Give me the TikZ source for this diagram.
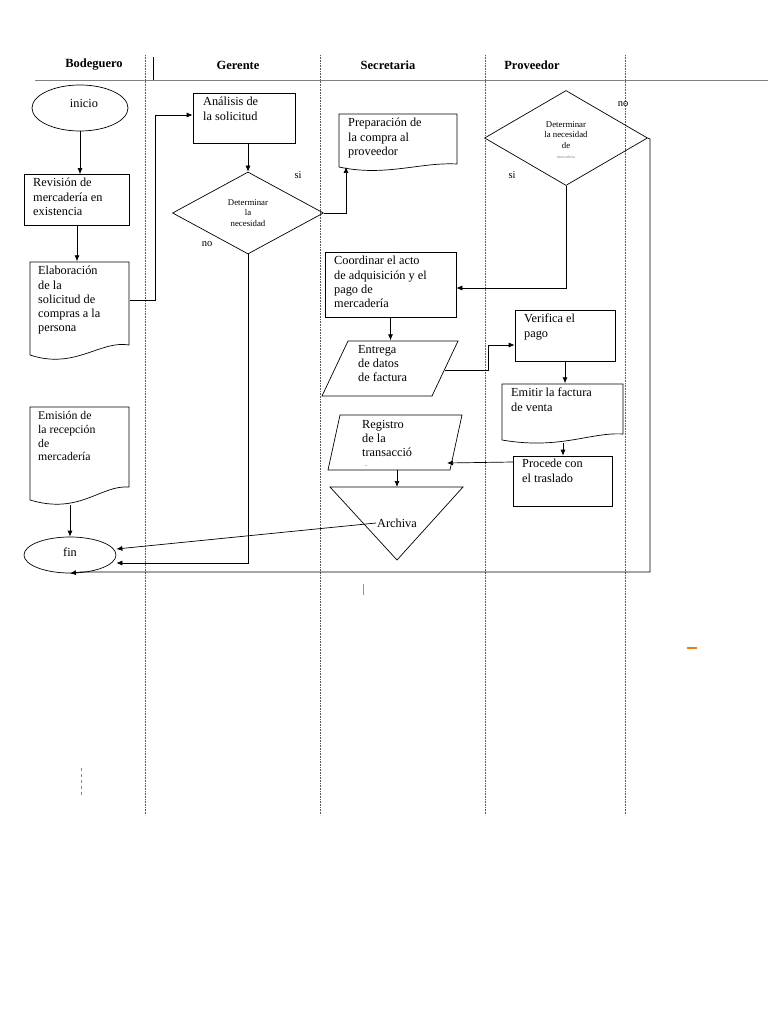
\documentclass[tikz,border=0pt]{standalone}
\usepackage{fontspec}
\setmainfont{Liberation Serif}
\usetikzlibrary{shapes.geometric,arrows.meta}
\begin{document}
\begin{tikzpicture}[x=1pt,y=-1pt,
  lane/.style={densely dotted,gray!70!black,line width=0.6pt},
  box/.style={draw,line width=0.7pt,rectangle,inner sep=0pt},
  shp/.style={draw,line width=0.7pt},
  txt/.style={anchor=north west,align=left,inner sep=0pt,font=\fontsize{12.3}{14.3}\selectfont},
  hd/.style={font=\fontsize{12.5}{14}\selectfont\bfseries},
  small/.style={font=\fontsize{8.8}{10.5}\selectfont,align=center},
  arr/.style={-{Latex[length=6pt,width=5pt]},line width=0.7pt},
  ln/.style={line width=0.7pt}]
\useasboundingbox (0,0) rectangle (768,1024);
\fill[white] (0,0) rectangle (768,1024);
% lanes
\foreach \x in {145,320,485,625} \draw[lane] (\x,55) -- (\x,815);
\draw[line width=0.7pt] (153,57) -- (153,80);
\draw[gray,line width=0.6pt] (35,80) -- (768,80);
\node[hd] at (94,65) {Bodeguero};
\node[hd] at (238,65) {Gerente};
\node[hd] at (388,65) {Secretaria};
\node[hd] at (532,65) {Proveedor};
% Bodeguero
\node[shp,ellipse,minimum width=96,minimum height=46] (inicio) at (80,108) {};
\node[font=\fontsize{12.3}{14}\selectfont] at (84,103) {inicio};
\node[box,minimum width=105,minimum height=51] (rev) at (77,200) {};
\node[txt] at (33,178) {Revisión de\\mercadería en\\existencia};
\node[minimum width=99,minimum height=93,inner sep=0pt] (elab) at (80,308) {};
\draw[shp] (30,355) -- (30,262) -- (129,262) -- (129,345) .. controls (100,340) and (75,370) .. (30,355);
\node[txt] at (38,266) {Elaboración\\de la\\solicitud de\\compras a la\\persona};
\node[minimum width=99,minimum height=98,inner sep=0pt] (emis) at (80,456) {};
\draw[shp] (30,500) -- (30,407) -- (129,407) -- (129,487) .. controls (100,485) and (80,515) .. (30,500);
\node[txt,font=\fontsize{11.8}{13.8}\selectfont] at (38,411) {Emisión de\\la recepción\\de\\mercadería};
\node[shp,ellipse,minimum width=92,minimum height=36] (fin) at (70,555) {};
\node[font=\fontsize{12.3}{14}\selectfont] at (70,552) {fin};
% Gerente
\node[box,minimum width=102,minimum height=50] (anal) at (244,118) {};
\node[txt] at (203,97) {Análisis de\\la solicitud};
\node[shp,diamond,minimum width=151,minimum height=82,inner sep=0pt] (d1) at (248,213) {};
\node[small] at (248,213) {Determinar\\la\\necesidad};
\node[font=\fontsize{10.5}{12}\selectfont] at (298,175) {si};
\node[font=\fontsize{10.5}{12}\selectfont] at (207,244) {no};
% Secretaria
\node[minimum width=118,minimum height=53,inner sep=0pt] (prep) at (398,140) {};
\draw[shp] (339,167) -- (339,114) -- (457,114) -- (457,164) .. controls (420,162) and (385,177) .. (339,167);
\node[txt] at (348,118) {Preparación de\\la compra al\\proveedor};
\node[box,minimum width=131,minimum height=65] (coord) at (390.5,284.5) {};
\node[txt] at (334,256) {Coordinar el acto\\de adquisición y el\\pago de\\mercadería};
\draw[shp] (348,341) -- (458,341) -- (432,396) -- (322,396) -- cycle;
\node[inner sep=0pt,minimum width=110,minimum height=55] (ent) at (397,368) {};
\node[txt] at (358,345) {Entrega\\de datos\\de factura};
\draw[shp] (340,415) -- (462,415) -- (450,470) -- (328,470) -- cycle;
\node[inner sep=0pt,minimum width=110,minimum height=55] (reg) at (397,442) {};
\node[txt] at (362,420) {Registro\\de la\\transacció};
\node[font=\tiny] at (366,466) {..};
\draw[shp] (330,487) -- (463,487) -- (397,560) -- cycle;
\node[font=\fontsize{12.3}{14}\selectfont,inner sep=1pt] (arch) at (397,523) {Archiva};
% Proveedor
\node[shp,diamond,minimum width=163,minimum height=95,inner sep=0pt] (d2) at (566,138) {};
\node[small] at (566,135) {Determinar\\la necesidad\\de};
\node[font=\fontsize{4}{5}\selectfont,gray] at (566,157) {mercadería};
\node[font=\fontsize{10.5}{12}\selectfont] at (512,175) {si};
\node[font=\fontsize{10.5}{12}\selectfont] at (623,104) {no};
\node[box,minimum width=100,minimum height=51] (ver) at (565,336) {};
\node[txt] at (524,314) {Verifica el\\pago};
\node[minimum width=121,minimum height=59,inner sep=0pt] (emit) at (563,413) {};
\draw[shp] (502,440) -- (502,384) -- (623,384) -- (623,434) .. controls (590,432) and (560,450) .. (502,440);
\node[txt] at (511,388) {Emitir la factura\\de venta};
\node[box,minimum width=99,minimum height=50] (proc) at (563,481) {};
\node[txt] at (522,459) {Procede con\\el traslado};
% connectors
\draw[arr] (inicio.south) -- (inicio.south |- rev.north);
\draw[arr] (rev.south) -- (rev.south |- elab.north);
\draw[arr] (elab.east |- 0,300) -- (155,300) -- (155,115) -- (anal.west |- 0,115);
\draw[arr] (anal.south -| d1.north) -- (d1.north);
\draw[arr] (d1.east) -- (346,213) -- (346,167);
\draw[arr] (d1.south) -- (248,563) -- (fin.east |- 0,563);
\draw[arr] (d2.south) -- (566,288) -- (coord.east |- 0,288);
\draw[arr] (d2.east) -- (650,139) -- (650,572) -- (81,572) -- (fin.south);
\draw[arr] (coord.south) -- (coord.south |- ent.north);
\draw[arr] (445,370) -- (488,370) -- (488,345) -- (ver.west |- 0,345);
\draw[arr] (ver.south) -- (ver.south |- emit.north);
\draw[arr] (emit.south) -- (proc.north);
\draw[arr] (proc.west |- 0,462) -- (447,463);
\draw[arr] (reg.south |- 0,470) -- (397,487);
\draw[arr] (arch.west) -- (fin.east |- 0,549);
\draw[arr] (fin.north |- 0,505) -- (fin.north);
% stray marks
\draw[orange!70!brown,line width=1pt] (363,584) -- (363,595);
\draw[orange!70!brown,line width=1.2pt] (687,648) -- (697,648);
\draw[violet!60,dashed,line width=0.6pt] (81,768) -- (81,796);
\end{tikzpicture}
\end{document}
